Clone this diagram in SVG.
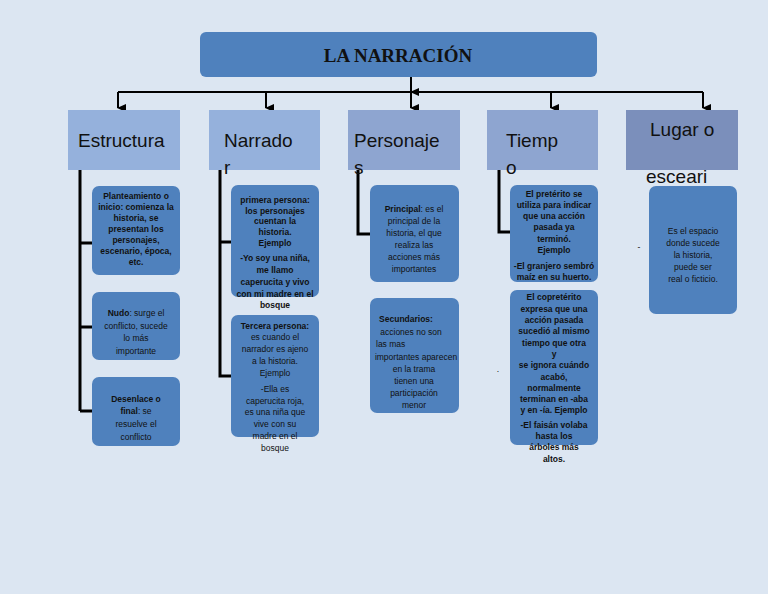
<svg xmlns="http://www.w3.org/2000/svg" width="768" height="594" viewBox="0 0 768 594">
<defs>
<marker id="ar" markerWidth="8" markerHeight="9" refX="4" refY="8" orient="auto" markerUnits="userSpaceOnUse"><path d="M0,0 L8,0 L4,9 Z" fill="#000"/></marker>
<style>
.cat{fill:#95b1dc}
.cat2{fill:#8ea5d0}
.box{fill:#4f81bd}
.h{font-family:"Liberation Sans",Arial,sans-serif;font-size:19px;fill:#111}
.t{font-family:"Liberation Sans",Arial,sans-serif;font-size:8.5px;fill:#111;text-anchor:middle}
.b{font-weight:bold}
.ln{stroke:#000;stroke-width:2;fill:none}
.bl{stroke:#000;stroke-width:3;fill:none}
</style>
</defs>
<rect width="768" height="594" fill="#dce6f2"/>
<g id="title"><rect x="200" y="32" width="397" height="45" rx="6" fill="#4f81bd"/>
<text x="398" y="62" text-anchor="middle" font-family="Liberation Serif,serif" font-weight="bold" font-size="19" fill="#111">LA NARRACIÓN</text></g>
<g id="connectors">
<path class="ln" d="M411,77 V100 M118,92 H703"/>
<path class="ln" marker-end="url(#ar)" d="M118,92 V108"/>
<path class="ln" marker-end="url(#ar)" d="M266,92 V108"/>
<path class="ln" marker-end="url(#ar)" d="M411,92 V108"/>
<path class="ln" marker-end="url(#ar)" d="M551,92 V108"/>
<path class="ln" marker-end="url(#ar)" d="M703,92 V108"/>
<path class="ln" marker-end="url(#ar)" d="M411,77 V92"/>
<path class="bl" d="M80,170 V411 M80,243 H92 M80,327 H92 M80,411 H92"/>
<path class="bl" d="M220,170 V376 H231 M220,242 H231"/>
<path class="bl" d="M358,170 V234 H370"/>
<path class="bl" d="M499,170 V232 H510"/>
</g>
<g id="estructura"><rect class="cat" x="68" y="110" width="112" height="60"/><text class="h" x="78" y="147">Estructura</text></g>
<g id="narrador"><rect class="cat" x="209" y="110" width="111" height="60"/><text class="h" x="224" y="147">Narrado</text><text class="h" x="224" y="174">r</text></g>
<g id="personajes"><rect class="cat2" x="348" y="110" width="112" height="60"/><text class="h" x="354" y="147">Personaje</text><text class="h" x="354" y="174">s</text></g>
<g id="tiempo"><rect class="cat2" x="487" y="110" width="111" height="60"/><text class="h" x="506" y="147">Tiemp</text><text class="h" x="506" y="174">o</text></g>
<g id="lugar"><rect x="626" y="110" width="112" height="60" fill="#7b8fbb"/><text class="h" x="650" y="136">Lugar o</text><text class="h" x="646" y="183">esceari</text></g>
<g id="planteamiento"><rect class="box" x="92" y="186" width="88" height="89" rx="7"/>
<text class="t b"><tspan x="136" y="199">Planteamiento o</tspan><tspan x="136" y="210">inicio: comienza la</tspan><tspan x="136" y="221">historia, se</tspan><tspan x="136" y="232">presentan los</tspan><tspan x="136" y="243">personajes,</tspan><tspan x="136" y="254">escenario, época,</tspan><tspan x="136" y="265">etc.</tspan></text></g>
<g id="nudo"><rect class="box" x="92" y="292" width="88" height="68" rx="7"/>
<text class="t"><tspan x="136" y="316"><tspan class="b">Nudo</tspan>: surge el</tspan><tspan x="136" y="329">conflicto, sucede</tspan><tspan x="136" y="341">lo más</tspan><tspan x="136" y="354">importante</tspan></text></g>
<g id="desenlace"><rect class="box" x="92" y="377" width="88" height="69" rx="7"/>
<text class="t"><tspan class="b" x="136" y="402">Desenlace o</tspan><tspan x="136" y="414"><tspan class="b">final</tspan>:  se</tspan><tspan x="136" y="427">resuelve el</tspan><tspan x="136" y="440">conflicto</tspan></text></g>
<g id="primera"><rect class="box" x="231" y="185" width="88" height="112" rx="7"/>
<text class="t b"><tspan x="275" y="203">primera persona:</tspan><tspan x="275" y="214">los personajes</tspan><tspan x="275" y="224">cuentan la</tspan><tspan x="275" y="235">historia.</tspan><tspan x="275" y="246">Ejemplo</tspan><tspan x="275" y="261">-Yo soy una niña,</tspan><tspan x="275" y="273">me llamo</tspan><tspan x="275" y="285">caperucita y vivo</tspan><tspan x="275" y="297">con mi madre en el</tspan><tspan x="275" y="308">bosque</tspan></text></g>
<g id="tercera"><rect class="box" x="231" y="315" width="88" height="122" rx="7"/>
<text class="t"><tspan class="b" x="275" y="329">Tercera persona:</tspan><tspan x="275" y="340">es cuando el</tspan><tspan x="275" y="352">narrador es ajeno</tspan><tspan x="275" y="364">a la historia.</tspan><tspan x="275" y="376">Ejemplo</tspan><tspan x="275" y="392">-Ella es</tspan><tspan x="275" y="404">caperucita roja,</tspan><tspan x="275" y="415">es una niña que</tspan><tspan x="275" y="427">vive con su</tspan><tspan x="275" y="439">madre en el</tspan><tspan x="275" y="451">bosque</tspan></text></g>
<g id="principal"><rect class="box" x="370" y="185" width="89" height="97" rx="7"/>
<text class="t"><tspan x="414" y="212"><tspan class="b">Principal</tspan>: es el</tspan><tspan x="414" y="224">principal de la</tspan><tspan x="414" y="236">historia, el que</tspan><tspan x="414" y="248">realiza las</tspan><tspan x="414" y="260">acciones más</tspan><tspan x="414" y="272">importantes</tspan></text></g>
<g id="secundarios"><rect class="box" x="370" y="298" width="89" height="115" rx="7"/>
<text class="t"><tspan class="b" x="406" y="322">Secundarios:</tspan><tspan x="411" y="335">acciones no son</tspan><tspan x="376" y="347" text-anchor="start">las mas</tspan><tspan x="416" y="360">importantes aparecen</tspan><tspan x="414" y="372">en la trama</tspan><tspan x="414" y="384">tienen una</tspan><tspan x="414" y="396">participación</tspan><tspan x="414" y="408">menor</tspan></text></g>
<g id="preterito"><rect class="box" x="510" y="185" width="88" height="97" rx="7"/>
<text class="t b"><tspan x="554" y="197">El pretérito se</tspan><tspan x="554" y="208">utiliza para indicar</tspan><tspan x="554" y="219">que una acción</tspan><tspan x="554" y="230">pasada ya</tspan><tspan x="554" y="242">terminó.</tspan><tspan x="554" y="253">Ejemplo</tspan><tspan x="554" y="269">-El granjero sembró</tspan><tspan x="554" y="280">maíz en su huerto.</tspan></text></g>
<g id="copreterito"><rect class="box" x="510" y="290" width="88" height="155" rx="7"/>
<text class="t b"><tspan x="554" y="300">El copretérito</tspan><tspan x="554" y="312">expresa que una</tspan><tspan x="554" y="323">acción pasada</tspan><tspan x="554" y="334">sucedió al mismo</tspan><tspan x="554" y="346">tiempo que otra</tspan><tspan x="554" y="357">y</tspan><tspan x="554" y="368">se ignora cuándo</tspan><tspan x="554" y="380">acabó,</tspan><tspan x="554" y="391">normalmente</tspan><tspan x="554" y="402">terminan en -aba</tspan><tspan x="554" y="413">y en -ía. Ejemplo</tspan><tspan x="554" y="428">-El faisán volaba</tspan><tspan x="554" y="439">hasta los</tspan><tspan x="554" y="450">árboles más</tspan><tspan x="554" y="462">altos.</tspan></text></g>
<text class="t" x="498" y="372">.</text>
<g id="lugar-desc"><rect class="box" x="649" y="186" width="88" height="128" rx="7"/>
<text class="t"><tspan x="693" y="234">Es el espacio</tspan><tspan x="693" y="246">donde sucede</tspan><tspan x="693" y="258">la historia,</tspan><tspan x="693" y="270">puede ser</tspan><tspan x="693" y="282">real o ficticio.</tspan></text></g>
<text class="t" x="639" y="250">-</text>
</svg>
